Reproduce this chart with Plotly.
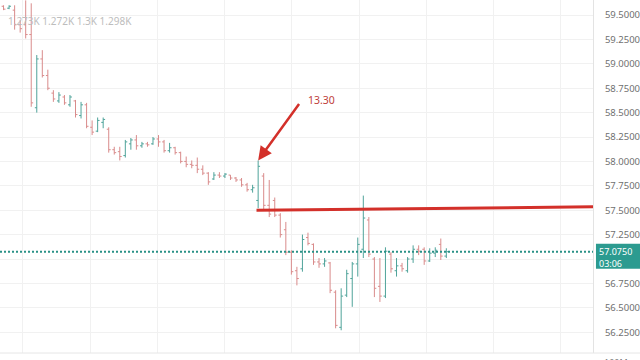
import plotly.graph_objects as go

bar_index = list(range(-4, 77))
opens = [59.59, 59.57, 59.55, 59.40, 59.40, 59.30, 58.55, 59.05, 58.88, 58.70,
         58.62, 58.66, 58.58, 58.62, 58.47, 58.58, 58.35, 58.31, 58.40, 58.33,
         58.12, 58.10, 58.06, 58.18, 58.22, 58.16, 58.18, 58.18, 58.23, 58.20,
         58.11, 58.14, 58.09, 58.00, 57.97, 57.96, 57.92, 57.88, 57.82, 57.86,
         57.85, 57.86, 57.83, 57.81, 57.76, 57.71, 57.60, 57.85, 57.55, 57.60,
         57.45, 57.30, 57.07, 56.88, 56.90, 57.22, 57.15, 56.97, 56.95, 56.96,
         56.66, 56.30, 56.63, 56.80, 56.95, 57.10, 57.40, 57.00, 56.72, 56.62,
         57.05, 56.88, 56.93, 56.88, 57.00, 57.10, 57.10, 56.98, 57.06, 57.15,
         57.03]
highs = [59.60, 59.60, 59.60, 59.45, 59.65, 59.62, 59.09, 59.14, 58.94, 58.73,
         58.71, 58.68, 58.68, 58.63, 58.61, 58.60, 58.42, 58.45, 58.45, 58.35,
         58.15, 58.15, 58.22, 58.24, 58.27, 58.20, 58.20, 58.25, 58.27, 58.22,
         58.19, 58.15, 58.10, 58.05, 58.01, 58.04, 57.96, 57.89, 57.89, 57.89,
         57.88, 57.86, 57.84, 57.83, 57.78, 57.76, 58.01, 57.88, 57.81, 57.63,
         57.47, 57.38, 57.09, 56.92, 57.25, 57.27, 57.16, 57.01, 57.01, 56.97,
         56.68, 56.70, 56.89, 56.97, 57.22, 57.65, 57.43, 57.02, 57.01, 57.12,
         57.07, 57.01, 56.96, 57.02, 57.14, 57.14, 57.12, 57.11, 57.12, 57.21,
         57.11]
lows = [59.55, 59.56, 59.35, 59.32, 59.26, 58.56, 58.50, 58.86, 58.73, 58.61,
        58.60, 58.58, 58.56, 58.45, 58.44, 58.34, 58.27, 58.30, 58.34, 58.09,
        58.07, 58.01, 58.04, 58.12, 58.12, 58.14, 58.15, 58.17, 58.15, 58.09,
        58.09, 58.07, 57.98, 57.94, 57.93, 57.88, 57.86, 57.76, 57.81, 57.83,
        57.83, 57.81, 57.79, 57.74, 57.69, 57.68, 57.52, 57.50, 57.43, 57.43,
        57.22, 57.04, 56.84, 56.73, 56.87, 57.14, 56.94, 56.91, 56.92, 56.65,
        56.29, 56.27, 56.61, 56.51, 56.82, 57.01, 57.02, 56.61, 56.56, 56.60,
        56.86, 56.82, 56.87, 56.86, 56.96, 57.04, 56.94, 56.97, 57.02, 56.99,
        57.01]
closes = [59.56, 59.59, 59.40, 59.36, 59.30, 58.60, 59.05, 58.88, 58.75, 58.64,
          58.68, 58.60, 58.66, 58.48, 58.58, 58.36, 58.30, 58.42, 58.43, 58.12,
          58.09, 58.05, 58.20, 58.22, 58.16, 58.18, 58.17, 58.23, 58.20, 58.11,
          58.14, 58.09, 58.00, 57.97, 57.96, 57.92, 57.88, 57.79, 57.86, 57.85,
          57.87, 57.83, 57.81, 57.76, 57.71, 57.73, 57.95, 57.55, 57.46, 57.45,
          57.25, 57.07, 56.87, 56.80, 57.20, 57.16, 56.97, 56.95, 56.98, 56.68,
          56.32, 56.62, 56.85, 56.95, 57.15, 57.42, 57.05, 56.70, 56.62, 57.08,
          56.90, 56.93, 56.90, 57.00, 57.10, 57.08, 56.98, 57.06, 57.09, 57.03,
          57.075]

price_ticks = [56.25, 56.5, 56.75, 57.0, 57.25, 57.5, 57.75, 58.0, 58.25,
               58.5, 58.75, 59.0, 59.25, 59.5]
last_price = 57.075
countdown = "03:06"
volume_labels = "1.273K 1.272K 1.3K 1.298K"
arrow_label = "13.30"
arrow_bar = 42
level_start_bar = 42
level_values = [57.50, 57.535]

Y_MIN, Y_MAX = 56.037, 59.654
X_MIN, X_MAX = -4.643, 102.5
PLOT_H = 353.0
PLOT_W = 600.0

fig = go.Figure()
fig.add_trace(go.Ohlc(
    x=bar_index, open=opens, high=highs, low=lows, close=closes,
    increasing=dict(line=dict(color="#4fa39a", width=1)),
    decreasing=dict(line=dict(color="#d98b8b", width=1)),
    tickwidth=0.35, hoverinfo="skip", showlegend=False,
))

def yp(v):
    return (v - Y_MIN) / (Y_MAX - Y_MIN)

lp = yp(last_price)
box_lo, box_hi = lp - 17 / PLOT_H, lp + 8 / PLOT_H
tick_text = ["" if box_lo <= yp(v) <= box_hi else f"{v:.4f}" for v in price_ticks]

shapes = []
shapes.append(dict(type="line", xref="x", yref="y", x0=level_start_bar - 0.3, x1=X_MAX,
                   y0=level_values[0], y1=level_values[1],
                   line=dict(color="#d3302a", width=3)))
shapes.append(dict(type="line", xref="paper", yref="y", x0=0, x1=1,
                   y0=last_price, y1=last_price,
                   line=dict(color="#2a9187", width=2, dash="2px,2px")))
shapes.append(dict(type="line", xref="paper", yref="paper", x0=0, x1=1.1, y0=0, y1=0,
                   line=dict(color="#e6e6e6", width=1)))
shapes.append(dict(type="rect", xref="paper", yref="paper",
                   x0=603 / PLOT_W, x1=1.1, y0=box_lo, y1=box_hi,
                   fillcolor="#2c9b90", line=dict(width=0), layer="above"))

annotations = [
    dict(xref="paper", yref="paper", x=6 / PLOT_W, y=1 - 21 / PLOT_H, text=volume_labels,
         showarrow=False, xanchor="left", yanchor="middle",
         font=dict(family="Noto Sans", size=10, color="#bdbdbd")),
    dict(xref="x", yref="y", x=arrow_bar, y=highs[bar_index.index(arrow_bar)], text="",
         showarrow=True, ax=42, ay=-58, arrowhead=2, arrowsize=1.1, arrowwidth=2.5,
         arrowcolor="#d3302a", standoff=0),
    dict(xref="x", yref="y", x=50.6, y=58.63, text=arrow_label, showarrow=False,
         xanchor="left", yanchor="middle",
         font=dict(family="Noto Sans", size=10.5, color="#c0403a")),
    dict(xref="paper", yref="paper", x=605 / PLOT_W, y=lp + 0.5 / PLOT_H,
         text=f"{last_price:.4f}", showarrow=False, xanchor="left", yanchor="middle",
         borderpad=0, font=dict(family="Noto Sans", size=9, color="white")),
    dict(xref="paper", yref="paper", x=605 / PLOT_W, y=lp - 11.5 / PLOT_H, text=countdown,
         showarrow=False, xanchor="left", yanchor="middle",
         borderpad=0, font=dict(family="Noto Sans", size=9, color="white")),
    dict(xref="paper", yref="paper", x=609 / PLOT_W, y=-1 / PLOT_H, text="100M",
         showarrow=False, xanchor="left", yanchor="top",
         font=dict(family="Noto Sans", size=9, color="#777777")),
]

fig.update_layout(
    width=640, height=360,
    margin=dict(l=0, r=40, t=0, b=7, pad=0),
    paper_bgcolor="white", plot_bgcolor="white",
    shapes=shapes, annotations=annotations,
    showlegend=False,
    xaxis=dict(range=[X_MIN, X_MAX], rangeslider=dict(visible=False),
               showticklabels=False, showgrid=True, gridcolor="#f1f1f1",
               tick0=-0.5, dtick=12.15, zeroline=False, showline=False, ticks=""),
    yaxis=dict(range=[Y_MIN, Y_MAX], side="right",
               tickmode="array", tickvals=price_ticks, ticktext=tick_text,
               showgrid=True, gridcolor="#f1f1f1",
               zeroline=False, showline=True, linecolor="#e3e3e3", linewidth=1,
               ticks="", ticklabelstandoff=9,
               tickfont=dict(family="Noto Sans", size=9.5, color="#6f6f6f")),
)

fig.write_html("out.html")
